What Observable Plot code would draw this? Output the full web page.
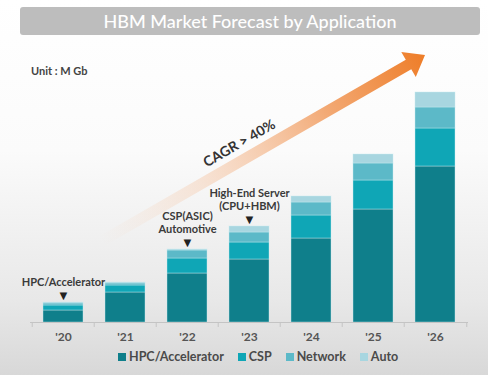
<!DOCTYPE html>
<html><head><meta charset="utf-8">
<script src="https://cdn.jsdelivr.net/npm/d3@7"></script>
<script src="https://cdn.jsdelivr.net/npm/@observablehq/plot@0.6"></script>
<style>
html,body{margin:0;padding:0;background:#fff;}
#wrap{position:relative;width:488px;height:375px;overflow:hidden;
 background:linear-gradient(180deg,#ffffff 0%,#fbfbfb 40%,#e8e8e8 80%,#d8d8d8 100%);
 font-family:Lato,"Noto Sans",sans-serif;}
#title{position:absolute;left:20px;top:7px;width:460px;height:28px;background:#bdbdbd;border-radius:3px;
 color:#fff;font-size:18px;line-height:28px;text-align:center;font-weight:500;}
#unit{position:absolute;left:31px;top:64px;font-size:11px;font-weight:700;color:#444;}
#chart{position:absolute;left:0;top:0;}
#legend{position:absolute;top:349px;left:118px;display:flex;align-items:center;font-size:12.5px;font-weight:700;color:#4a4a4a;}
#legend .it{display:flex;align-items:center;margin-right:14px;}
#legend .sw{width:8px;height:8px;margin-right:3px;}
</style></head>
<body>
<div id="wrap">
  <div id="chart"></div>
  <div id="title">HBM Market Forecast by Application</div>
  <div id="unit">Unit : M Gb</div>
  <div id="legend"></div>
</div>
<script>
const years = ["'20","'21","'22","'23","'24","'25","'26"];
const seriesNames = ["HPC/Accelerator","CSP","Network","Auto"];
const hpc     = [12, 30, 49, 63, 84, 113, 156];
const csp     = [5, 7, 15, 17, 23, 29, 38];
const network = [2, 2, 8, 10, 13, 17, 21];
const auto    = [1, 1, 1, 6, 6, 9, 15];
const colors  = ["#0f7f8b","#0fa6b6","#5cb9c8","#a8d6e0"];
const annotations = [
  {year:"'20", lines:["HPC/Accelerator"]},
  {year:"'22", lines:["CSP(ASIC)","Automotive"]},
  {year:"'23", lines:["High-End Server","(CPU+HBM)"]}
];
const cagrLabel = "CAGR > 40%";

const valuesBySeries = [hpc, csp, network, auto];
const data = [];
seriesNames.forEach((s,i)=>years.forEach((y,j)=>data.push({year:y, series:s, value:valuesBySeries[i][j]})));
const totals = years.map((y,j)=>({year:y, total: valuesBySeries.reduce((a,arr)=>a+arr[j],0)}));
const totalOf = y => totals.find(t=>t.year===y).total;

// lines counted from the bottom (0 = nearest the bar)
const annText = [];
annotations.forEach(a=>{
  const n = a.lines.length;
  a.lines.forEach((t,k)=>annText.push({year:a.year, text:t, y: totalOf(a.year), level: n-1-k}));
});

const W=488, H=375, mL=30, mR=20;
const step = (W-mL-mR)/years.length;
const textStyle = {x:"year", y:"y", text:"text", fontSize:11, fontWeight:700, fill:"#3a3a3a", lineAnchor:"middle"};

const chart = Plot.plot({
  width:W, height:H, marginLeft:mL, marginRight:mR, marginTop:92, marginBottom:53,
  style:{background:"transparent", fontFamily:"Lato, 'Noto Sans', sans-serif", overflow:"visible"},
  x:{domain:years, paddingInner:0.36, paddingOuter:0.18, label:null},
  y:{domain:[0,230], axis:null},
  color:{domain:seriesNames, range:colors},
  marks:[
    Plot.barY(data,{x:"year", y:"value", fill:"series", stroke:"#c9ecef", strokeWidth:0.6, strokeOpacity:0.7}),
    Plot.ruleY([0],{stroke:"#c4c4c4", strokeWidth:1}),
    Plot.ruleX(years,{x:d=>d, dx:-step/2, y1:0, y2:-5, stroke:"#c4c4c4"}),
    Plot.ruleX([years[years.length-1]],{x:d=>d, dx:step/2, y1:0, y2:-5, stroke:"#c4c4c4"}),
    Plot.axisX({tickSize:0, tickPadding:10, fontSize:12, fontWeight:700, fill:"#555", label:null}),
    Plot.text(annText.filter(d=>d.level===0),{...textStyle, dy:-20}),
    Plot.text(annText.filter(d=>d.level===1),{...textStyle, dy:-33.5}),
    Plot.text(annotations,{x:"year", y:a=>totalOf(a.year), text:()=>"\u25BC", dy:-7, fontSize:13, fill:"#222", lineAnchor:"middle"})
  ]
});
document.getElementById("chart").appendChild(chart);

const svg = d3.select(chart);

// Growth arrow (decoration) anchored to the scales
const xs = chart.scale("x"), ys = chart.scale("y");
const tail = [xs.apply(years[0]) + xs.bandwidth/2 + 39, ys.apply(0) - 81];
const tip  = [xs.apply(years[6]) + xs.bandwidth/2 - 10, ys.apply(230) - 37];
const dx = tip[0]-tail[0], dy = tip[1]-tail[1];
const L = Math.hypot(dx,dy), ang = Math.atan2(dy,dx)*180/Math.PI;
const defs = svg.insert("defs",":first-child");
const grad = defs.append("linearGradient").attr("id","arrowGrad").attr("x1","0").attr("x2","1").attr("y1","0").attr("y2","0");
grad.append("stop").attr("offset","0").attr("stop-color","#f6d2b8").attr("stop-opacity",0);
grad.append("stop").attr("offset","0.3").attr("stop-color","#f5c6a5").attr("stop-opacity",0.4);
grad.append("stop").attr("offset","0.7").attr("stop-color","#f2a46c").attr("stop-opacity",0.95);
grad.append("stop").attr("offset","1").attr("stop-color","#ee7d28").attr("stop-opacity",1);
const hl=19, hw=14.5, sw=5.5;
const g = svg.insert("g","defs + *").attr("transform",`translate(${tail[0]},${tail[1]}) rotate(${ang})`);
g.append("path").attr("d",`M0,${-sw}L${L-hl},${-sw}L${L-hl},${-hw}L${L},0L${L-hl},${hw}L${L-hl},${sw}L0,${sw}Z`).attr("fill","url(#arrowGrad)");
// CAGR label
const mid = 0.45;
const cx = tail[0] + dx*mid, cy = tail[1] + dy*mid;
const nx = dy/L, ny = -dx/L;
svg.append("text").attr("transform",`translate(${cx + nx*15},${cy + ny*15}) rotate(${ang})`)
  .attr("text-anchor","middle").attr("dominant-baseline","middle")
  .attr("font-size",14).attr("font-weight",700).attr("fill","#333")
  .attr("font-family","Lato, 'Noto Sans', sans-serif").text(cagrLabel);

// Legend
const leg = document.getElementById("legend");
seriesNames.forEach((s,i)=>{
  const it=document.createElement("div"); it.className="it";
  const sq=document.createElement("div"); sq.className="sw"; sq.style.background=colors[i];
  const tx=document.createElement("span"); tx.textContent=s;
  it.appendChild(sq); it.appendChild(tx); leg.appendChild(it);
});
</script>
</body></html>
